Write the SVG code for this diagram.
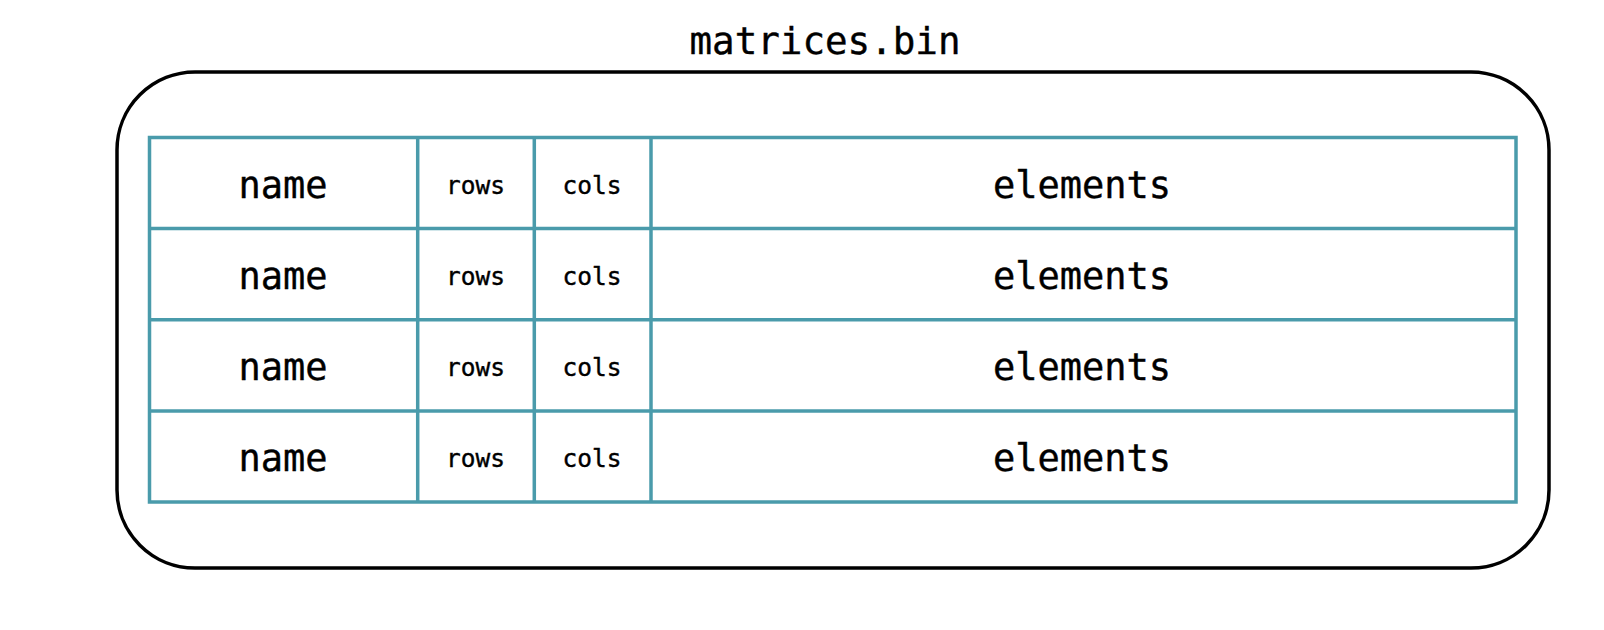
<svg xmlns="http://www.w3.org/2000/svg" width="1604" height="630" viewBox="0 0 1604 630">
<style>
.t{font-family:"DejaVu Sans Mono","Liberation Mono",monospace;fill:#000;text-anchor:middle;stroke:#000;stroke-width:0.4}
.big{font-size:37px}
.sm{font-size:24.5px}
.g{stroke:#4a9bab;stroke-width:3.5;fill:none}
</style>
<rect width="1604" height="630" fill="#fff"/>
<g id="file">
<rect x="117" y="72" width="1432" height="496" rx="78" ry="78" fill="none" stroke="#000" stroke-width="3.5"/>
<text class="t" x="825" y="54" style="font-size:37.5px">matrices.bin</text>
</g>
<g id="table">
<rect class="g" x="149.5" y="137.5" width="1366.5" height="364.5"/>
<line class="g" x1="149.5" y1="228.6" x2="1516" y2="228.6"/>
<line class="g" x1="149.5" y1="319.7" x2="1516" y2="319.7"/>
<line class="g" x1="149.5" y1="410.9" x2="1516" y2="410.9"/>
<line class="g" x1="417.7" y1="137.5" x2="417.7" y2="502"/>
<line class="g" x1="534.3" y1="137.5" x2="534.3" y2="502"/>
<line class="g" x1="651" y1="137.5" x2="651" y2="502"/>
</g>
<g id="row1">
<text class="t big" x="283" y="198">name</text>
<text class="t sm" x="475.5" y="194">rows</text>
<text class="t sm" x="592" y="194">cols</text>
<text class="t big" x="1082" y="198">elements</text>
</g>
<g id="row2">
<text class="t big" x="283" y="289">name</text>
<text class="t sm" x="475.5" y="285">rows</text>
<text class="t sm" x="592" y="285">cols</text>
<text class="t big" x="1082" y="289">elements</text>
</g>
<g id="row3">
<text class="t big" x="283" y="380">name</text>
<text class="t sm" x="475.5" y="376">rows</text>
<text class="t sm" x="592" y="376">cols</text>
<text class="t big" x="1082" y="380">elements</text>
</g>
<g id="row4">
<text class="t big" x="283" y="471">name</text>
<text class="t sm" x="475.5" y="467">rows</text>
<text class="t sm" x="592" y="467">cols</text>
<text class="t big" x="1082" y="471">elements</text>
</g>
</svg>
